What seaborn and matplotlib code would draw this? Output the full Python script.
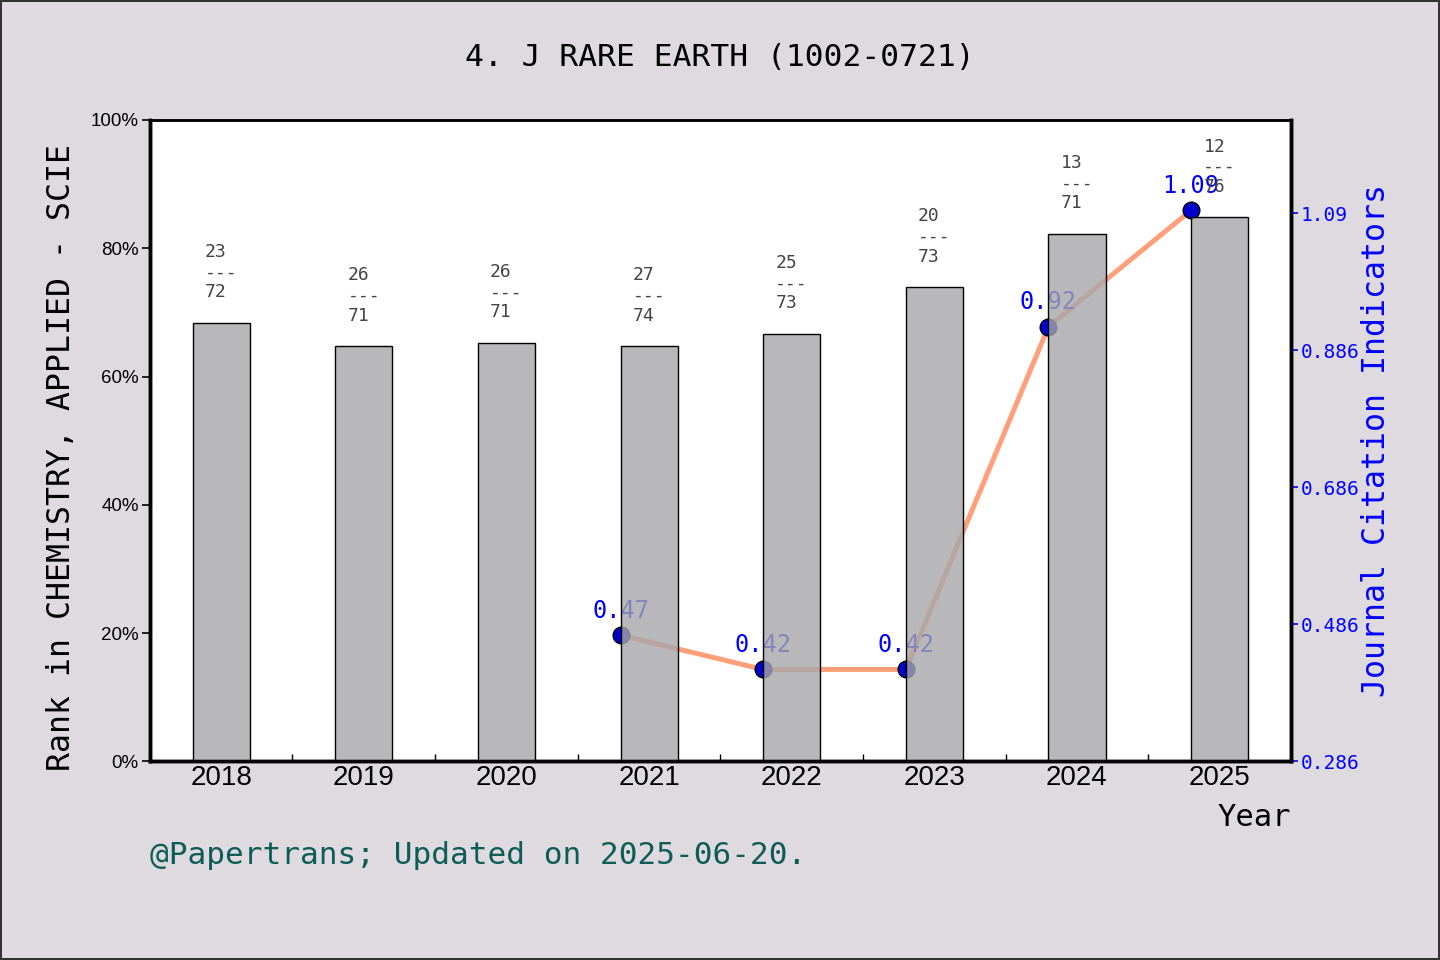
import numpy as np
import pandas as pd
import matplotlib
matplotlib.use('Agg')
import matplotlib.pyplot as plt
import seaborn as sns

# data
years = ['2018', '2019', '2020', '2021', '2022', '2023', '2024', '2025']
rank = [23, 26, 26, 27, 25, 20, 13, 12]
total = [72, 71, 71, 74, 73, 73, 71, 76]
pct = [68.4, 64.8, 65.3, 64.8, 66.7, 74.0, 82.3, 84.8]

jci_years = ['2021', '2022', '2023', '2024', '2025']
jci = [0.47, 0.42, 0.42, 0.92, 1.09]

jci_ticks = [0.286, 0.486, 0.686, 0.886, 1.086]
jci_ticklabels = ['0.286', '0.486', '0.686', '0.886', '1.09']

title = '4. J RARE EARTH (1002-0721)'
footer = '@Papertrans; Updated on 2025-06-20.'

MONO = ['DejaVu Sans Mono']
SANS = ['Liberation Sans', 'DejaVu Sans']
plt.rcParams['font.family'] = SANS

df = pd.DataFrame({'year': years, 'pct': pct})

fig = plt.figure(figsize=(14.4, 9.6), dpi=100, facecolor='#dedae0',
                 edgecolor='#333333', linewidth=1.5)
ax = fig.add_axes([0.104, 0.207, 0.7925, 0.668])
ax2 = ax.twinx()

# line (JCI) sits underneath the semi-transparent bars
ax.set_zorder(ax2.get_zorder() + 1)
ax.patch.set_visible(False)
ax2.patch.set_visible(True)
ax2.patch.set_facecolor('white')

sns.barplot(data=df, x='year', y='pct', ax=ax, width=0.4, color='#a6a7aa',
            saturation=1, edgecolor='black', linewidth=1)
for p in ax.patches:
    p.set_facecolor((0.651, 0.655, 0.667, 0.8))

for i, (r, n, h) in enumerate(zip(rank, total, pct)):
    ax.text(i, h + 3.3, f'{r}\n---\n{n}', ha='center', va='bottom',
            multialignment='left', fontsize=13, color='#444444',
            linespacing=1.15, family=MONO)

# JCI points sit on the left edge of each bar
bar_left = [ax.patches[years.index(y)].get_x() for y in jci_years]
df_jci = pd.DataFrame({'pos': bar_left, 'jci': jci})

sns.lineplot(data=df_jci, x='pos', y='jci', ax=ax2, color='lightsalmon',
             linewidth=3.6, marker='o', markersize=12,
             markerfacecolor='mediumblue', markeredgecolor='black',
             markeredgewidth=1)
for x, v in zip(df_jci['pos'], df_jci['jci']):
    ax2.annotate(f'{v:.2f}', (x, v), xytext=(0, 9), textcoords='offset points',
                 ha='center', va='bottom', fontsize=17, color='blue',
                 family=MONO)

# axes setup
ax.set_xlim(-0.5, 7.5)
ax.set_ylim(0, 100)
ax.set_yticks(np.arange(0, 101, 20))
ax.set_yticklabels([f'{v}%' for v in range(0, 101, 20)], fontsize=13.5)
ax.tick_params(axis='y', direction='out', length=6, width=1.2, pad=2)
ax.set_xticks(range(len(years)))
ax.set_xticklabels(years, fontsize=20)
ax.set_xticks(np.arange(0.5, 7.5, 1), minor=True)
ax.tick_params(axis='x', which='major', length=0, pad=3)
ax.tick_params(axis='x', which='minor', direction='in', length=5, width=1)

ax2.set_ylim(0.286, 1.2217)
ax2.set_yticks(jci_ticks)
ax2.set_yticklabels(jci_ticklabels, family=MONO, fontsize=14, color='blue')
ax2.tick_params(axis='y', direction='out', length=5, width=1.2, colors='blue',
                pad=2)
ax2.tick_params(axis='y', labelcolor='blue')

ax.set_xlabel('Year', loc='right', family=MONO, fontsize=22, labelpad=8)
ax.set_ylabel('Rank in CHEMISTRY, APPLIED - SCIE', family=MONO, fontsize=22.7)
ax.yaxis.set_label_coords(-0.064, 0.474)
ax2.set_xlabel('')
ax2.set_ylabel('Journal Citation Indicators', family=MONO, fontsize=22.7,
               color='blue', labelpad=1)

for a in (ax, ax2):
    for side in ('left', 'bottom', 'right'):
        a.spines[side].set_linewidth(2.5)
        a.spines[side].set_color('black')
    a.spines['top'].set_linewidth(1.8)
    a.spines['top'].set_color('black')

fig.text(0.5, 0.94, title, ha='center', va='center', family=MONO,
         fontsize=22.5)
fig.text(0.104, 0.109, footer, ha='left', va='center', family=MONO,
         fontsize=22.4, color='#0e5c57')

fig.savefig('out.png', dpi=100, facecolor=fig.get_facecolor(),
            edgecolor=fig.get_edgecolor())
